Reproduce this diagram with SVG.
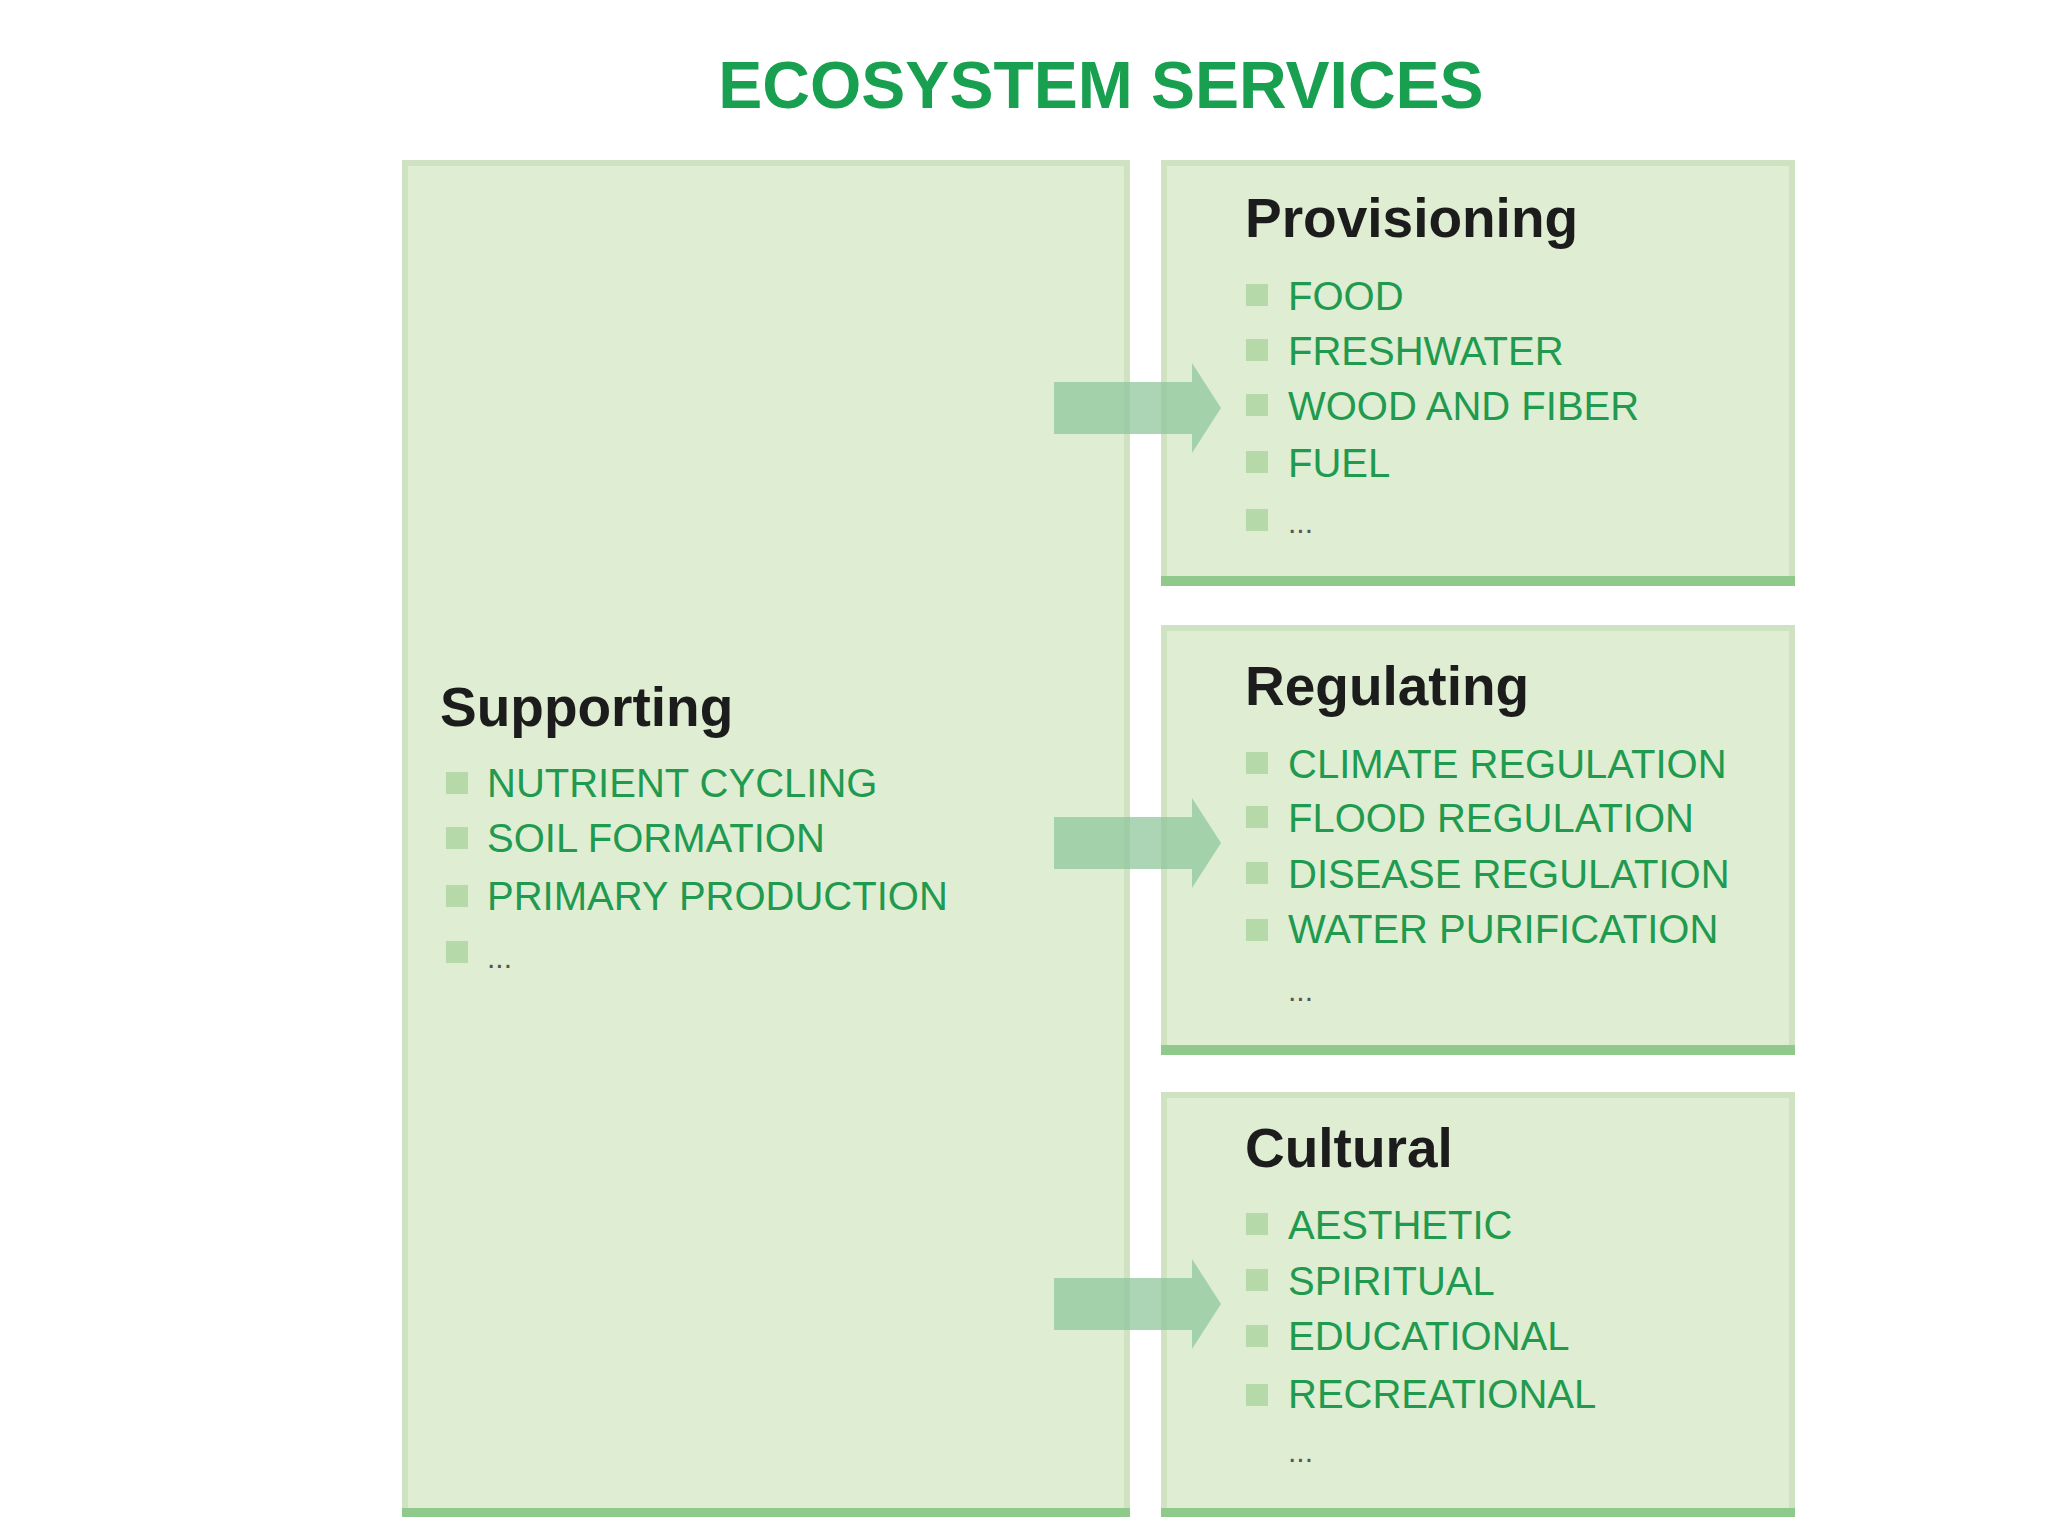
<svg xmlns="http://www.w3.org/2000/svg" width="2048" height="1536" viewBox="0 0 2048 1536">
<style>
.box{fill:#dfedd3;stroke:#cfe3c3;stroke-width:6}
.band{fill:#8fca8c}
.h{font-family:"Liberation Sans",Arial,sans-serif;font-weight:bold;font-size:55px;fill:#1c1c1c}
.it{font-family:"Liberation Sans",Arial,sans-serif;font-size:40px;fill:#1f9a4f}
.dots{font-family:"Liberation Sans",Arial,sans-serif;font-size:30px;fill:#555}
.b{fill:#b6d9a9}
.arr{fill:#8fc79c;opacity:0.75}
</style>
<defs>
<path id="ar" d="M0,-26 H138 V-45 L167,0 L138,45 V26 H0 Z"/>
</defs>
<rect width="2048" height="1536" fill="#fff"/>
<text x="1101" y="108" text-anchor="middle" font-family="Liberation Sans,Arial,sans-serif" font-weight="bold" font-size="66" fill="#18a050">ECOSYSTEM SERVICES</text>
<g id="supporting">
<rect class="box" x="405" y="163" width="722" height="1350"/>
<rect class="band" x="402" y="1508" width="728" height="9"/>
<text class="h" x="440" y="726">Supporting</text>
<rect class="b" x="446" y="772" width="22" height="22"/><text class="it" x="487" y="797">NUTRIENT CYCLING</text>
<rect class="b" x="446" y="827" width="22" height="22"/><text class="it" x="487" y="852">SOIL FORMATION</text>
<rect class="b" x="446" y="885" width="22" height="22"/><text class="it" x="487" y="910">PRIMARY PRODUCTION</text>
<rect class="b" x="446" y="941" width="22" height="22"/><text class="dots" x="487" y="968">...</text>
</g>
<g id="provisioning">
<rect class="box" x="1164" y="163" width="628" height="416"/>
<rect class="band" x="1161" y="576" width="634" height="10"/>
<text class="h" x="1245" y="237">Provisioning</text>
<rect class="b" x="1246" y="284" width="22" height="22"/><text class="it" x="1288" y="310">FOOD</text>
<rect class="b" x="1246" y="339" width="22" height="22"/><text class="it" x="1288" y="365">FRESHWATER</text>
<rect class="b" x="1246" y="394" width="22" height="22"/><text class="it" x="1288" y="420">WOOD AND FIBER</text>
<rect class="b" x="1246" y="451" width="22" height="22"/><text class="it" x="1288" y="477">FUEL</text>
<rect class="b" x="1246" y="509" width="22" height="22"/><text class="dots" x="1288" y="533">...</text>
</g>
<g id="regulating">
<rect class="box" x="1164" y="628" width="628" height="420"/>
<rect class="band" x="1161" y="1045" width="634" height="10"/>
<text class="h" x="1245" y="705">Regulating</text>
<rect class="b" x="1246" y="752" width="22" height="22"/><text class="it" x="1288" y="778">CLIMATE REGULATION</text>
<rect class="b" x="1246" y="806" width="22" height="22"/><text class="it" x="1288" y="832">FLOOD REGULATION</text>
<rect class="b" x="1246" y="862" width="22" height="22"/><text class="it" x="1288" y="888">DISEASE REGULATION</text>
<rect class="b" x="1246" y="919" width="22" height="22"/><text class="it" x="1288" y="943">WATER PURIFICATION</text>
<text class="dots" x="1288" y="1001">...</text>
</g>
<g id="cultural">
<rect class="box" x="1164" y="1095" width="628" height="418"/>
<rect class="band" x="1161" y="1508" width="634" height="9"/>
<text class="h" x="1245" y="1167">Cultural</text>
<rect class="b" x="1246" y="1213" width="22" height="22"/><text class="it" x="1288" y="1239">AESTHETIC</text>
<rect class="b" x="1246" y="1269" width="22" height="22"/><text class="it" x="1288" y="1295">SPIRITUAL</text>
<rect class="b" x="1246" y="1325" width="22" height="22"/><text class="it" x="1288" y="1350">EDUCATIONAL</text>
<rect class="b" x="1246" y="1384" width="22" height="22"/><text class="it" x="1288" y="1408">RECREATIONAL</text>
<text class="dots" x="1288" y="1462">...</text>
</g>
<g id="connectors">
<use href="#ar" class="arr" x="1054" y="408"/>
<use href="#ar" class="arr" x="1054" y="843"/>
<use href="#ar" class="arr" x="1054" y="1304"/>
</g>
</svg>
